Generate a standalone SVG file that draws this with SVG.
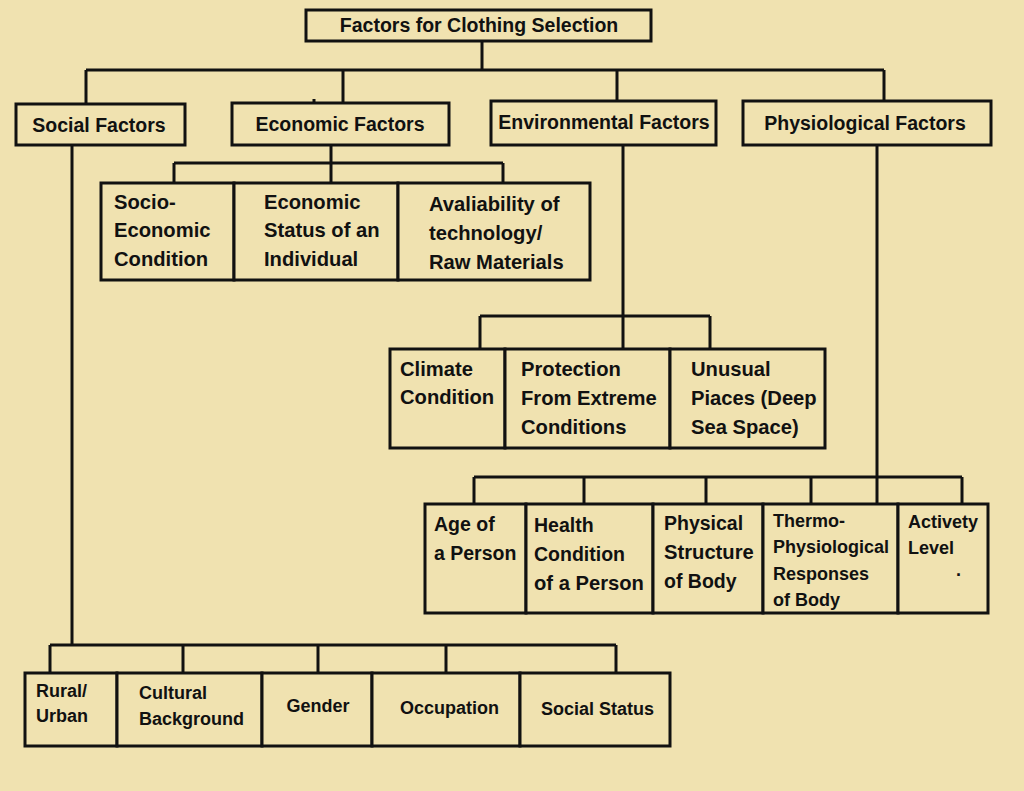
<svg xmlns="http://www.w3.org/2000/svg" width="1024" height="791" viewBox="0 0 1024 791">
<style>
.box{fill:#F0E2B0;stroke:#111;stroke-width:3}
.c{fill:none;stroke:#111;stroke-width:3}
.t{font-family:"Liberation Sans",Arial,sans-serif;font-weight:bold;font-size:19.5px;fill:#111}
.b{font-size:20.2px}
.s{font-size:18px}
.m{text-anchor:middle}
</style>
<rect x="0" y="0" width="1024" height="791" fill="#F0E2B0"/>
<g id="connectors">
<path class="c" d="M482 41V70M86 70H884M86 70V104M343 70V103M617 70V101M884 70V101"/>
<path class="c" d="M314 99V102" stroke-width="2"/>
<path class="c" d="M331 145V163M174 163H503M174 163V183M331 163V183M503 163V183"/>
<path class="c" d="M623 145V316M480 316H710M480 316V349M623 316V349M710 316V349"/>
<path class="c" d="M877 145V504M474 477H962M474 477V504M584 477V504M706 477V504M811 477V504M962 477V504"/>
<path class="c" d="M72 145V645M50 645H616M50 645V673M183 645V673M318 645V673M446 645V673M616 645V673"/>
</g>
<g id="root"><rect class="box" x="306" y="10" width="345" height="31"/><text class="t m" x="479" y="32">Factors for Clothing Selection</text></g>
<g id="social"><rect class="box" x="16" y="104" width="169" height="41"/><text class="t m" x="99" y="132">Social Factors</text></g>
<g id="economic"><rect class="box" x="232" y="103" width="217" height="42"/><text class="t m" x="340" y="131">Economic Factors</text></g>
<g id="environmental"><rect class="box" x="491" y="101" width="225" height="44"/><text class="t m" x="604" y="129">Environmental Factors</text></g>
<g id="physiological"><rect class="box" x="743" y="101" width="248" height="44"/><text class="t m" x="865" y="130">Physiological Factors</text></g>

<g id="socio-economic"><rect class="box" x="101" y="183" width="133" height="97"/><text class="t b" x="114" y="209">Socio-</text><text class="t b" x="114" y="237">Economic</text><text class="t b" x="114" y="266">Condition</text></g>
<g id="economic-status"><rect class="box" x="234" y="183" width="164" height="97"/><text class="t b" x="264" y="209">Economic</text><text class="t b" x="264" y="237">Status of an</text><text class="t b" x="264" y="266">Individual</text></g>
<g id="availability"><rect class="box" x="398" y="183" width="192" height="97"/><text class="t b" x="429" y="211">Avaliability of</text><text class="t b" x="429" y="240">technology/</text><text class="t b" x="429" y="269">Raw Materials</text></g>

<g id="climate"><rect class="box" x="390" y="349" width="115" height="99"/><text class="t b" x="400" y="376">Climate</text><text class="t b" x="400" y="404">Condition</text></g>
<g id="protection"><rect class="box" x="505" y="349" width="165" height="99"/><text class="t b" x="521" y="376">Protection</text><text class="t b" x="521" y="405">From Extreme</text><text class="t b" x="521" y="434">Conditions</text></g>
<g id="unusual"><rect class="box" x="670" y="349" width="155" height="99"/><text class="t b" x="691" y="376">Unusual</text><text class="t b" x="691" y="405">Piaces (Deep</text><text class="t b" x="691" y="434">Sea Space)</text></g>

<g id="age"><rect class="box" x="425" y="504" width="101" height="109"/><text class="t" x="434" y="531">Age of</text><text class="t" x="434" y="560">a Person</text></g>
<g id="health"><rect class="box" x="526" y="504" width="127" height="109"/><text class="t" x="534" y="532">Health</text><text class="t" x="534" y="561">Condition</text><text class="t b" x="534" y="590">of a Person</text></g>
<g id="physical"><rect class="box" x="653" y="504" width="110" height="109"/><text class="t" x="664" y="530">Physical</text><text class="t b" x="664" y="559">Structure</text><text class="t" x="664" y="588">of Body</text></g>
<g id="thermo"><rect class="box" x="763" y="504" width="135" height="109"/><text class="t s" x="773" y="527">Thermo-</text><text class="t s" x="773" y="553">Physiological</text><text class="t s" x="773" y="580">Responses</text><text class="t s" x="773" y="606">of Body</text></g>
<g id="activity"><rect class="box" x="898" y="504" width="90" height="109"/><text class="t s" x="908" y="528">Activety</text><text class="t s" x="908" y="554">Level</text><text class="t s" x="956" y="576">.</text></g>

<g id="rural"><rect class="box" x="25" y="673" width="92" height="73"/><text class="t s" x="36" y="697">Rural/</text><text class="t s" x="36" y="722">Urban</text></g>
<g id="cultural"><rect class="box" x="117" y="673" width="145" height="73"/><text class="t s" x="139" y="699">Cultural</text><text class="t s" x="139" y="725">Background</text></g>
<g id="gender"><rect class="box" x="262" y="673" width="110" height="73"/><text class="t s m" x="318" y="712">Gender</text></g>
<g id="occupation"><rect class="box" x="372" y="673" width="148" height="73"/><text class="t s" x="400" y="714">Occupation</text></g>
<g id="social-status"><rect class="box" x="520" y="673" width="150" height="73"/><text class="t s" x="541" y="715">Social Status</text></g>
</svg>
